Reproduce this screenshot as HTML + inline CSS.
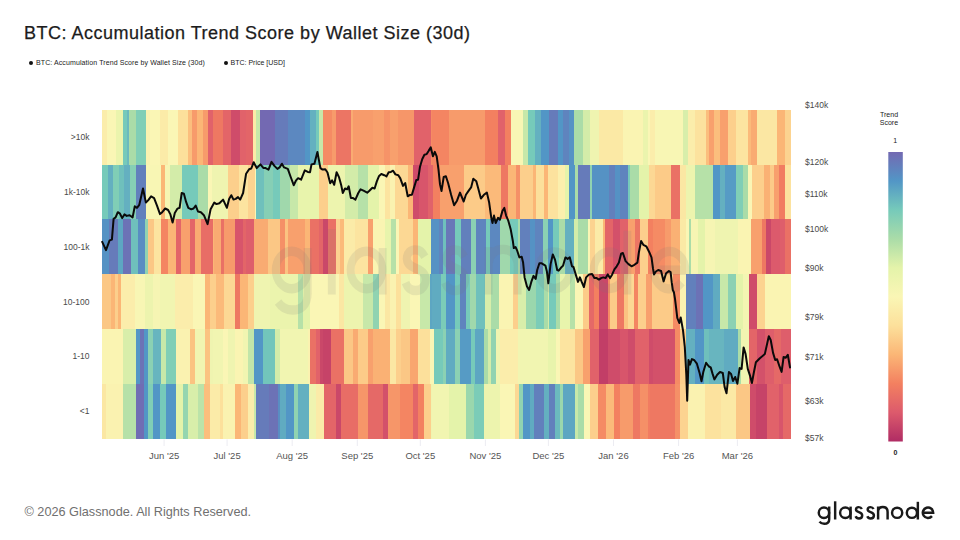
<!DOCTYPE html>
<html><head><meta charset="utf-8"><title>BTC: Accumulation Trend Score by Wallet Size (30d)</title>
<style>
html,body{margin:0;padding:0;background:#fff;}
body{width:960px;height:540px;position:relative;overflow:hidden;font-family:"Liberation Sans",sans-serif;}
.t{position:absolute;white-space:nowrap;}
#title{left:24px;top:22.6px;font-size:18px;color:#1c1c1c;letter-spacing:0.5px;-webkit-text-stroke:0.25px #1c1c1c;}
.lg{top:59.2px;font-size:7px;color:#222;}
.dot{position:absolute;width:4px;height:4px;border-radius:50%;background:#111;}
#foot{left:24.5px;top:504.5px;font-size:12.7px;color:#707070;}
#logo{left:816px;top:495px;font-size:26px;color:#1a1a1a;letter-spacing:0px;}
svg{position:absolute;left:0;top:0;}
svg text{font-family:"Liberation Sans",sans-serif;}
.ax{font-size:8.5px;fill:#4a4a4a;}
.mx{font-size:9.5px;fill:#555;}
.cb{font-size:7px;fill:#222;}
</style></head><body>
<div id="title" class="t">BTC: Accumulation Trend Score by Wallet Size (30d)</div>
<div class="dot" style="left:29px;top:61.2px"></div>
<div class="t lg" style="left:36px;letter-spacing:0.1px">BTC: Accumulation Trend Score by Wallet Size (30d)</div>
<div class="dot" style="left:223.5px;top:61.2px"></div>
<div class="t lg" style="left:230.5px">BTC: Price [USD]</div>
<svg width="960" height="540" viewBox="0 0 960 540">
<g shape-rendering="crispEdges"><rect x="102.00" y="109.70" width="5.35" height="55.20" fill="#fbedab"/>
<rect x="107.00" y="109.70" width="8.95" height="55.20" fill="#faf6b5"/>
<rect x="115.60" y="109.70" width="7.75" height="55.20" fill="#ebf4ad"/>
<rect x="123.00" y="109.70" width="4.35" height="55.20" fill="#76caba"/>
<rect x="127.00" y="109.70" width="2.75" height="55.20" fill="#6bbabe"/>
<rect x="129.40" y="109.70" width="6.95" height="55.20" fill="#aadca8"/>
<rect x="136.00" y="109.70" width="9.95" height="55.20" fill="#80ceb6"/>
<rect x="145.60" y="109.70" width="4.75" height="55.20" fill="#faf2b0"/>
<rect x="150.00" y="109.70" width="10.35" height="55.20" fill="#faf6b5"/>
<rect x="160.00" y="109.70" width="7.85" height="55.20" fill="#fbeba8"/>
<rect x="167.50" y="109.70" width="10.35" height="55.20" fill="#faf6b5"/>
<rect x="177.50" y="109.70" width="10.35" height="55.20" fill="#fce09b"/>
<rect x="187.50" y="109.70" width="4.85" height="55.20" fill="#fbbe7d"/>
<rect x="192.00" y="109.70" width="5.35" height="55.20" fill="#f79b6b"/>
<rect x="197.00" y="109.70" width="5.85" height="55.20" fill="#fbb676"/>
<rect x="202.50" y="109.70" width="5.35" height="55.20" fill="#f79b6b"/>
<rect x="207.50" y="109.70" width="5.85" height="55.20" fill="#e1626a"/>
<rect x="213.00" y="109.70" width="10.35" height="55.20" fill="#ee7862"/>
<rect x="223.00" y="109.70" width="7.95" height="55.20" fill="#e36568"/>
<rect x="230.60" y="109.70" width="9.75" height="55.20" fill="#cf4c6a"/>
<rect x="240.00" y="109.70" width="6.35" height="55.20" fill="#e1626a"/>
<rect x="246.00" y="109.70" width="7.35" height="55.20" fill="#e36568"/>
<rect x="253.00" y="109.70" width="2.95" height="55.20" fill="#fbeba8"/>
<rect x="255.60" y="109.70" width="4.75" height="55.20" fill="#c7e8a9"/>
<rect x="260.00" y="109.70" width="15.35" height="55.20" fill="#7369b2"/>
<rect x="275.00" y="109.70" width="12.85" height="55.20" fill="#667bba"/>
<rect x="287.50" y="109.70" width="17.85" height="55.20" fill="#5c88c0"/>
<rect x="305.00" y="109.70" width="5.35" height="55.20" fill="#5296c6"/>
<rect x="310.00" y="109.70" width="6.35" height="55.20" fill="#64b0c0"/>
<rect x="316.00" y="109.70" width="3.75" height="55.20" fill="#76caba"/>
<rect x="319.40" y="109.70" width="3.95" height="55.20" fill="#c7e8a9"/>
<rect x="323.00" y="109.70" width="9.35" height="55.20" fill="#f58b64"/>
<rect x="332.00" y="109.70" width="3.95" height="55.20" fill="#f79b6b"/>
<rect x="335.60" y="109.70" width="15.35" height="55.20" fill="#ec7564"/>
<rect x="350.60" y="109.70" width="2.75" height="55.20" fill="#f9ab72"/>
<rect x="353.00" y="109.70" width="14.85" height="55.20" fill="#f79b6b"/>
<rect x="367.50" y="109.70" width="5.35" height="55.20" fill="#f79b6b"/>
<rect x="372.50" y="109.70" width="11.85" height="55.20" fill="#f8a06d"/>
<rect x="384.00" y="109.70" width="6.35" height="55.20" fill="#f69368"/>
<rect x="390.00" y="109.70" width="7.85" height="55.20" fill="#f8a06d"/>
<rect x="397.50" y="109.70" width="16.85" height="55.20" fill="#f69669"/>
<rect x="414.00" y="109.70" width="17.35" height="55.20" fill="#e1626a"/>
<rect x="431.00" y="109.70" width="1.35" height="55.20" fill="#f58b64"/>
<rect x="432.00" y="109.70" width="17.05" height="55.20" fill="#f48562"/>
<rect x="448.70" y="109.70" width="36.65" height="55.20" fill="#f79b6b"/>
<rect x="485.00" y="109.70" width="12.85" height="55.20" fill="#f38060"/>
<rect x="497.50" y="109.70" width="7.85" height="55.20" fill="#e1626a"/>
<rect x="505.00" y="109.70" width="6.35" height="55.20" fill="#f38060"/>
<rect x="511.00" y="109.70" width="11.85" height="55.20" fill="#f8f6b4"/>
<rect x="522.50" y="109.70" width="5.35" height="55.20" fill="#c7e8a9"/>
<rect x="527.50" y="109.70" width="7.85" height="55.20" fill="#76caba"/>
<rect x="535.00" y="109.70" width="6.35" height="55.20" fill="#64b0c0"/>
<rect x="541.00" y="109.70" width="8.05" height="55.20" fill="#5296c6"/>
<rect x="548.70" y="109.70" width="9.15" height="55.20" fill="#667bba"/>
<rect x="557.50" y="109.70" width="5.35" height="55.20" fill="#5296c6"/>
<rect x="562.50" y="109.70" width="7.25" height="55.20" fill="#5f84be"/>
<rect x="569.40" y="109.70" width="5.35" height="55.20" fill="#5592c4"/>
<rect x="574.40" y="109.70" width="8.45" height="55.20" fill="#aadca8"/>
<rect x="582.50" y="109.70" width="7.85" height="55.20" fill="#d3eca9"/>
<rect x="590.00" y="109.70" width="9.05" height="55.20" fill="#eff4b0"/>
<rect x="598.70" y="109.70" width="24.15" height="55.20" fill="#fbe9a5"/>
<rect x="622.50" y="109.70" width="20.35" height="55.20" fill="#faf4b2"/>
<rect x="642.50" y="109.70" width="5.35" height="55.20" fill="#ebf4ad"/>
<rect x="647.50" y="109.70" width="2.85" height="55.20" fill="#faf6b5"/>
<rect x="650.00" y="109.70" width="5.35" height="55.20" fill="#fbedab"/>
<rect x="655.00" y="109.70" width="27.85" height="55.20" fill="#f8f6b4"/>
<rect x="682.50" y="109.70" width="5.35" height="55.20" fill="#d8eeaa"/>
<rect x="687.50" y="109.70" width="7.85" height="55.20" fill="#fbedab"/>
<rect x="695.00" y="109.70" width="10.95" height="55.20" fill="#fce29e"/>
<rect x="705.60" y="109.70" width="3.45" height="55.20" fill="#fbbe7d"/>
<rect x="708.70" y="109.70" width="5.35" height="55.20" fill="#f8a06d"/>
<rect x="713.70" y="109.70" width="6.65" height="55.20" fill="#fbbe7d"/>
<rect x="720.00" y="109.70" width="7.85" height="55.20" fill="#f8a06d"/>
<rect x="727.50" y="109.70" width="8.65" height="55.20" fill="#fccf8c"/>
<rect x="735.80" y="109.70" width="12.05" height="55.20" fill="#fce4a0"/>
<rect x="747.50" y="109.70" width="3.85" height="55.20" fill="#fbba7a"/>
<rect x="751.00" y="109.70" width="6.15" height="55.20" fill="#f9ab72"/>
<rect x="756.80" y="109.70" width="20.25" height="55.20" fill="#fbe7a3"/>
<rect x="776.70" y="109.70" width="8.45" height="55.20" fill="#fbb676"/>
<rect x="784.80" y="109.70" width="6.35" height="55.20" fill="#fcd390"/>
<rect x="102.00" y="164.55" width="5.85" height="55.20" fill="#76caba"/>
<rect x="107.50" y="164.55" width="5.35" height="55.20" fill="#64b0c0"/>
<rect x="112.50" y="164.55" width="6.55" height="55.20" fill="#80ceb6"/>
<rect x="118.70" y="164.55" width="5.35" height="55.20" fill="#6fc0bc"/>
<rect x="123.70" y="164.55" width="6.65" height="55.20" fill="#64b0c0"/>
<rect x="130.00" y="164.55" width="6.55" height="55.20" fill="#86cfb5"/>
<rect x="136.20" y="164.55" width="9.75" height="55.20" fill="#6280bc"/>
<rect x="145.60" y="164.55" width="15.95" height="55.20" fill="#f8f6b4"/>
<rect x="161.20" y="164.55" width="4.15" height="55.20" fill="#fbb676"/>
<rect x="165.00" y="164.55" width="5.35" height="55.20" fill="#f6f5b3"/>
<rect x="170.00" y="164.55" width="12.35" height="55.20" fill="#d3eca9"/>
<rect x="182.00" y="164.55" width="15.85" height="55.20" fill="#76caba"/>
<rect x="197.50" y="164.55" width="10.35" height="55.20" fill="#aadca8"/>
<rect x="207.50" y="164.55" width="4.85" height="55.20" fill="#faf6b5"/>
<rect x="212.00" y="164.55" width="15.85" height="55.20" fill="#eff4b0"/>
<rect x="227.50" y="164.55" width="11.55" height="55.20" fill="#fccf8c"/>
<rect x="238.70" y="164.55" width="9.15" height="55.20" fill="#fce4a0"/>
<rect x="247.50" y="164.55" width="7.85" height="55.20" fill="#fcd390"/>
<rect x="255.00" y="164.55" width="1.35" height="55.20" fill="#faf6b5"/>
<rect x="256.00" y="164.55" width="8.05" height="55.20" fill="#6fc0bc"/>
<rect x="263.70" y="164.55" width="9.15" height="55.20" fill="#86cfb5"/>
<rect x="272.50" y="164.55" width="7.85" height="55.20" fill="#76caba"/>
<rect x="280.00" y="164.55" width="10.35" height="55.20" fill="#a0d8ac"/>
<rect x="290.00" y="164.55" width="7.85" height="55.20" fill="#c7e8a9"/>
<rect x="297.50" y="164.55" width="21.55" height="55.20" fill="#e8f4ac"/>
<rect x="318.70" y="164.55" width="9.15" height="55.20" fill="#fccf8c"/>
<rect x="327.50" y="164.55" width="17.85" height="55.20" fill="#edf4ae"/>
<rect x="345.00" y="164.55" width="12.85" height="55.20" fill="#d3eca9"/>
<rect x="357.50" y="164.55" width="10.35" height="55.20" fill="#b6e1a8"/>
<rect x="367.50" y="164.55" width="11.55" height="55.20" fill="#e4f3aa"/>
<rect x="378.70" y="164.55" width="6.65" height="55.20" fill="#faf6b5"/>
<rect x="385.00" y="164.55" width="5.35" height="55.20" fill="#fce4a0"/>
<rect x="390.00" y="164.55" width="5.35" height="55.20" fill="#faf2b0"/>
<rect x="395.00" y="164.55" width="12.85" height="55.20" fill="#fcd894"/>
<rect x="407.50" y="164.55" width="5.85" height="55.20" fill="#fbb676"/>
<rect x="413.00" y="164.55" width="6.05" height="55.20" fill="#cf4c6a"/>
<rect x="418.70" y="164.55" width="9.65" height="55.20" fill="#d8556b"/>
<rect x="428.00" y="164.55" width="4.85" height="55.20" fill="#e1626a"/>
<rect x="432.50" y="164.55" width="7.85" height="55.20" fill="#f38060"/>
<rect x="440.00" y="164.55" width="24.05" height="55.20" fill="#f8a06d"/>
<rect x="463.70" y="164.55" width="21.65" height="55.20" fill="#fccb88"/>
<rect x="485.00" y="164.55" width="16.35" height="55.20" fill="#fbba7a"/>
<rect x="501.00" y="164.55" width="6.85" height="55.20" fill="#ee7862"/>
<rect x="507.50" y="164.55" width="8.85" height="55.20" fill="#fbb676"/>
<rect x="516.00" y="164.55" width="4.35" height="55.20" fill="#f59067"/>
<rect x="520.00" y="164.55" width="12.85" height="55.20" fill="#fccf8c"/>
<rect x="532.50" y="164.55" width="3.85" height="55.20" fill="#fbb676"/>
<rect x="536.00" y="164.55" width="8.05" height="55.20" fill="#fce09b"/>
<rect x="543.70" y="164.55" width="4.15" height="55.20" fill="#fbb676"/>
<rect x="547.50" y="164.55" width="10.35" height="55.20" fill="#fce29e"/>
<rect x="557.50" y="164.55" width="7.85" height="55.20" fill="#fbefad"/>
<rect x="565.00" y="164.55" width="4.05" height="55.20" fill="#e4f3aa"/>
<rect x="568.70" y="164.55" width="6.65" height="55.20" fill="#5296c6"/>
<rect x="575.00" y="164.55" width="2.85" height="55.20" fill="#aadca8"/>
<rect x="577.50" y="164.55" width="12.85" height="55.20" fill="#667bba"/>
<rect x="590.00" y="164.55" width="2.35" height="55.20" fill="#90d3b1"/>
<rect x="592.00" y="164.55" width="17.05" height="55.20" fill="#5592c4"/>
<rect x="608.70" y="164.55" width="6.65" height="55.20" fill="#6280bc"/>
<rect x="615.00" y="164.55" width="5.35" height="55.20" fill="#5592c4"/>
<rect x="620.00" y="164.55" width="7.85" height="55.20" fill="#5f84be"/>
<rect x="627.50" y="164.55" width="2.85" height="55.20" fill="#76caba"/>
<rect x="630.00" y="164.55" width="9.05" height="55.20" fill="#aadca8"/>
<rect x="638.70" y="164.55" width="10.35" height="55.20" fill="#e4f3aa"/>
<rect x="648.70" y="164.55" width="6.65" height="55.20" fill="#fcd894"/>
<rect x="655.00" y="164.55" width="16.35" height="55.20" fill="#fccb88"/>
<rect x="671.00" y="164.55" width="9.35" height="55.20" fill="#ea7165"/>
<rect x="680.00" y="164.55" width="6.35" height="55.20" fill="#fbe7a3"/>
<rect x="686.00" y="164.55" width="9.35" height="55.20" fill="#edf4ae"/>
<rect x="695.00" y="164.55" width="17.85" height="55.20" fill="#b6e1a8"/>
<rect x="712.50" y="164.55" width="7.85" height="55.20" fill="#5296c6"/>
<rect x="720.00" y="164.55" width="5.35" height="55.20" fill="#64b0c0"/>
<rect x="725.00" y="164.55" width="11.35" height="55.20" fill="#569bc5"/>
<rect x="736.00" y="164.55" width="7.15" height="55.20" fill="#80ceb6"/>
<rect x="742.80" y="164.55" width="5.05" height="55.20" fill="#aadca8"/>
<rect x="747.50" y="164.55" width="4.85" height="55.20" fill="#faf6b5"/>
<rect x="752.00" y="164.55" width="12.15" height="55.20" fill="#fccf8c"/>
<rect x="763.80" y="164.55" width="6.25" height="55.20" fill="#fab174"/>
<rect x="769.70" y="164.55" width="4.95" height="55.20" fill="#fccb88"/>
<rect x="774.30" y="164.55" width="5.05" height="55.20" fill="#f8a06d"/>
<rect x="779.00" y="164.55" width="6.15" height="55.20" fill="#f17c61"/>
<rect x="784.80" y="164.55" width="6.35" height="55.20" fill="#fce29e"/>
<rect x="102.00" y="219.40" width="7.05" height="55.20" fill="#5592c4"/>
<rect x="108.70" y="219.40" width="9.15" height="55.20" fill="#667bba"/>
<rect x="117.50" y="219.40" width="5.35" height="55.20" fill="#5da6c2"/>
<rect x="122.50" y="219.40" width="9.05" height="55.20" fill="#6c72b6"/>
<rect x="131.20" y="219.40" width="6.65" height="55.20" fill="#6fc0bc"/>
<rect x="137.50" y="219.40" width="7.85" height="55.20" fill="#598dc2"/>
<rect x="145.00" y="219.40" width="3.35" height="55.20" fill="#90d3b1"/>
<rect x="148.00" y="219.40" width="6.05" height="55.20" fill="#fbc785"/>
<rect x="153.70" y="219.40" width="7.85" height="55.20" fill="#fce4a0"/>
<rect x="161.20" y="219.40" width="7.15" height="55.20" fill="#f48562"/>
<rect x="168.00" y="219.40" width="8.55" height="55.20" fill="#fbb676"/>
<rect x="176.20" y="219.40" width="5.35" height="55.20" fill="#e36568"/>
<rect x="181.20" y="219.40" width="9.15" height="55.20" fill="#f8a06d"/>
<rect x="190.00" y="219.40" width="5.35" height="55.20" fill="#e36568"/>
<rect x="195.00" y="219.40" width="6.55" height="55.20" fill="#f9ab72"/>
<rect x="201.20" y="219.40" width="11.65" height="55.20" fill="#e86d66"/>
<rect x="212.50" y="219.40" width="1.55" height="55.20" fill="#fbb676"/>
<rect x="213.70" y="219.40" width="7.65" height="55.20" fill="#f9ab72"/>
<rect x="221.00" y="219.40" width="3.05" height="55.20" fill="#ea7165"/>
<rect x="223.70" y="219.40" width="11.65" height="55.20" fill="#f79b6b"/>
<rect x="235.00" y="219.40" width="7.85" height="55.20" fill="#d8556b"/>
<rect x="242.50" y="219.40" width="3.85" height="55.20" fill="#e36568"/>
<rect x="246.00" y="219.40" width="8.05" height="55.20" fill="#de5e6b"/>
<rect x="253.70" y="219.40" width="14.15" height="55.20" fill="#f9ab72"/>
<rect x="267.50" y="219.40" width="12.85" height="55.20" fill="#fbc785"/>
<rect x="280.00" y="219.40" width="5.35" height="55.20" fill="#f59067"/>
<rect x="285.00" y="219.40" width="2.85" height="55.20" fill="#fbc381"/>
<rect x="287.50" y="219.40" width="17.85" height="55.20" fill="#f8a06d"/>
<rect x="305.00" y="219.40" width="5.35" height="55.20" fill="#fbb676"/>
<rect x="310.00" y="219.40" width="9.05" height="55.20" fill="#ea7165"/>
<rect x="318.70" y="219.40" width="4.15" height="55.20" fill="#e36568"/>
<rect x="322.50" y="219.40" width="5.35" height="55.20" fill="#ca4869"/>
<rect x="327.50" y="219.40" width="8.45" height="55.20" fill="#ea7165"/>
<rect x="335.60" y="219.40" width="4.75" height="55.20" fill="#fcd390"/>
<rect x="340.00" y="219.40" width="4.05" height="55.20" fill="#fbba7a"/>
<rect x="343.70" y="219.40" width="11.65" height="55.20" fill="#fbeba8"/>
<rect x="355.00" y="219.40" width="12.85" height="55.20" fill="#fce4a0"/>
<rect x="367.50" y="219.40" width="5.35" height="55.20" fill="#f8a06d"/>
<rect x="372.50" y="219.40" width="12.85" height="55.20" fill="#faf4b2"/>
<rect x="385.00" y="219.40" width="6.35" height="55.20" fill="#e8f4ac"/>
<rect x="391.00" y="219.40" width="5.35" height="55.20" fill="#b6e1a8"/>
<rect x="396.00" y="219.40" width="3.05" height="55.20" fill="#faf6b5"/>
<rect x="398.70" y="219.40" width="14.15" height="55.20" fill="#fcd894"/>
<rect x="412.50" y="219.40" width="5.35" height="55.20" fill="#fbb676"/>
<rect x="417.50" y="219.40" width="13.85" height="55.20" fill="#e4f3aa"/>
<rect x="431.00" y="219.40" width="8.05" height="55.20" fill="#5592c4"/>
<rect x="438.70" y="219.40" width="4.15" height="55.20" fill="#5f84be"/>
<rect x="442.50" y="219.40" width="3.85" height="55.20" fill="#6fc0bc"/>
<rect x="446.00" y="219.40" width="9.35" height="55.20" fill="#6977b8"/>
<rect x="455.00" y="219.40" width="6.35" height="55.20" fill="#76caba"/>
<rect x="461.00" y="219.40" width="10.35" height="55.20" fill="#6280bc"/>
<rect x="471.00" y="219.40" width="5.35" height="55.20" fill="#8bd1b3"/>
<rect x="476.00" y="219.40" width="10.35" height="55.20" fill="#5f84be"/>
<rect x="486.00" y="219.40" width="4.35" height="55.20" fill="#76caba"/>
<rect x="490.00" y="219.40" width="10.35" height="55.20" fill="#5c88c0"/>
<rect x="500.00" y="219.40" width="10.35" height="55.20" fill="#a0d8ac"/>
<rect x="510.00" y="219.40" width="7.85" height="55.20" fill="#76caba"/>
<rect x="517.50" y="219.40" width="2.85" height="55.20" fill="#aadca8"/>
<rect x="520.00" y="219.40" width="10.35" height="55.20" fill="#6280bc"/>
<rect x="530.00" y="219.40" width="5.35" height="55.20" fill="#5592c4"/>
<rect x="535.00" y="219.40" width="7.85" height="55.20" fill="#5f84be"/>
<rect x="542.50" y="219.40" width="5.35" height="55.20" fill="#8bd1b3"/>
<rect x="547.50" y="219.40" width="5.35" height="55.20" fill="#5296c6"/>
<rect x="552.50" y="219.40" width="6.55" height="55.20" fill="#76caba"/>
<rect x="558.70" y="219.40" width="6.65" height="55.20" fill="#aadca8"/>
<rect x="565.00" y="219.40" width="9.05" height="55.20" fill="#64b0c0"/>
<rect x="573.70" y="219.40" width="4.15" height="55.20" fill="#d3eca9"/>
<rect x="577.50" y="219.40" width="10.35" height="55.20" fill="#aadca8"/>
<rect x="587.50" y="219.40" width="2.85" height="55.20" fill="#faf6b5"/>
<rect x="590.00" y="219.40" width="5.35" height="55.20" fill="#fcd390"/>
<rect x="595.00" y="219.40" width="7.85" height="55.20" fill="#fbeba8"/>
<rect x="602.50" y="219.40" width="2.85" height="55.20" fill="#fbb676"/>
<rect x="605.00" y="219.40" width="7.85" height="55.20" fill="#e36568"/>
<rect x="612.50" y="219.40" width="7.85" height="55.20" fill="#d3516a"/>
<rect x="620.00" y="219.40" width="7.85" height="55.20" fill="#e1626a"/>
<rect x="627.50" y="219.40" width="7.85" height="55.20" fill="#f8a06d"/>
<rect x="635.00" y="219.40" width="5.35" height="55.20" fill="#ec7564"/>
<rect x="640.00" y="219.40" width="7.85" height="55.20" fill="#fccf8c"/>
<rect x="647.50" y="219.40" width="5.35" height="55.20" fill="#f38060"/>
<rect x="652.50" y="219.40" width="12.85" height="55.20" fill="#f58b64"/>
<rect x="665.00" y="219.40" width="6.35" height="55.20" fill="#f79b6b"/>
<rect x="671.00" y="219.40" width="9.35" height="55.20" fill="#fab174"/>
<rect x="680.00" y="219.40" width="6.35" height="55.20" fill="#fbe9a5"/>
<rect x="686.00" y="219.40" width="3.05" height="55.20" fill="#faf6b5"/>
<rect x="688.70" y="219.40" width="2.65" height="55.20" fill="#aadca8"/>
<rect x="691.00" y="219.40" width="6.85" height="55.20" fill="#f6f5b3"/>
<rect x="697.50" y="219.40" width="7.85" height="55.20" fill="#e4f3aa"/>
<rect x="705.00" y="219.40" width="10.35" height="55.20" fill="#f6f5b3"/>
<rect x="715.00" y="219.40" width="22.85" height="55.20" fill="#eff4b0"/>
<rect x="737.50" y="219.40" width="13.85" height="55.20" fill="#faf4b2"/>
<rect x="751.00" y="219.40" width="10.85" height="55.20" fill="#f8a06d"/>
<rect x="761.50" y="219.40" width="5.05" height="55.20" fill="#ee7862"/>
<rect x="766.20" y="219.40" width="4.95" height="55.20" fill="#ca4869"/>
<rect x="770.80" y="219.40" width="9.75" height="55.20" fill="#dc5a6c"/>
<rect x="780.20" y="219.40" width="4.95" height="55.20" fill="#de5e6b"/>
<rect x="784.80" y="219.40" width="6.35" height="55.20" fill="#ea7165"/>
<rect x="102.00" y="274.25" width="9.35" height="55.20" fill="#fbc785"/>
<rect x="111.00" y="274.25" width="4.35" height="55.20" fill="#fbb676"/>
<rect x="115.00" y="274.25" width="2.85" height="55.20" fill="#fccf8c"/>
<rect x="117.50" y="274.25" width="3.85" height="55.20" fill="#fbb676"/>
<rect x="121.00" y="274.25" width="14.35" height="55.20" fill="#fbedab"/>
<rect x="135.00" y="274.25" width="10.35" height="55.20" fill="#f8f6b4"/>
<rect x="145.00" y="274.25" width="7.85" height="55.20" fill="#edf4ae"/>
<rect x="152.50" y="274.25" width="7.85" height="55.20" fill="#f6f5b3"/>
<rect x="160.00" y="274.25" width="15.35" height="55.20" fill="#f1f5b1"/>
<rect x="175.00" y="274.25" width="17.85" height="55.20" fill="#fbedab"/>
<rect x="192.50" y="274.25" width="12.85" height="55.20" fill="#faf6b5"/>
<rect x="205.00" y="274.25" width="5.35" height="55.20" fill="#fbb676"/>
<rect x="210.00" y="274.25" width="6.35" height="55.20" fill="#fccf8c"/>
<rect x="216.00" y="274.25" width="8.05" height="55.20" fill="#fbba7a"/>
<rect x="223.70" y="274.25" width="11.65" height="55.20" fill="#fcd894"/>
<rect x="235.00" y="274.25" width="5.35" height="55.20" fill="#ee7862"/>
<rect x="240.00" y="274.25" width="7.85" height="55.20" fill="#fbb676"/>
<rect x="247.50" y="274.25" width="6.55" height="55.20" fill="#fccf8c"/>
<rect x="253.70" y="274.25" width="16.65" height="55.20" fill="#eff4b0"/>
<rect x="270.00" y="274.25" width="27.85" height="55.20" fill="#ebf4ad"/>
<rect x="297.50" y="274.25" width="5.35" height="55.20" fill="#b6e1a8"/>
<rect x="302.50" y="274.25" width="7.85" height="55.20" fill="#e4f3aa"/>
<rect x="310.00" y="274.25" width="29.05" height="55.20" fill="#faf6b5"/>
<rect x="338.70" y="274.25" width="5.35" height="55.20" fill="#fbe7a3"/>
<rect x="343.70" y="274.25" width="19.15" height="55.20" fill="#edf4ae"/>
<rect x="362.50" y="274.25" width="10.35" height="55.20" fill="#c7e8a9"/>
<rect x="372.50" y="274.25" width="6.55" height="55.20" fill="#90d3b1"/>
<rect x="378.70" y="274.25" width="6.65" height="55.20" fill="#faf6b5"/>
<rect x="385.00" y="274.25" width="5.35" height="55.20" fill="#fbe7a3"/>
<rect x="390.00" y="274.25" width="6.35" height="55.20" fill="#faf2b0"/>
<rect x="396.00" y="274.25" width="5.35" height="55.20" fill="#fce09b"/>
<rect x="401.00" y="274.25" width="9.35" height="55.20" fill="#eff4b0"/>
<rect x="410.00" y="274.25" width="10.35" height="55.20" fill="#faf6b5"/>
<rect x="420.00" y="274.25" width="10.35" height="55.20" fill="#c7e8a9"/>
<rect x="430.00" y="274.25" width="2.35" height="55.20" fill="#5da6c2"/>
<rect x="432.00" y="274.25" width="9.35" height="55.20" fill="#60abc1"/>
<rect x="441.00" y="274.25" width="5.35" height="55.20" fill="#7bccb8"/>
<rect x="446.00" y="274.25" width="9.35" height="55.20" fill="#5296c6"/>
<rect x="455.00" y="274.25" width="5.35" height="55.20" fill="#76caba"/>
<rect x="460.00" y="274.25" width="6.35" height="55.20" fill="#5f84be"/>
<rect x="466.00" y="274.25" width="4.35" height="55.20" fill="#76caba"/>
<rect x="470.00" y="274.25" width="6.35" height="55.20" fill="#a0d8ac"/>
<rect x="476.00" y="274.25" width="9.35" height="55.20" fill="#6fc0bc"/>
<rect x="485.00" y="274.25" width="6.35" height="55.20" fill="#d8eeaa"/>
<rect x="491.00" y="274.25" width="8.35" height="55.20" fill="#aadca8"/>
<rect x="499.00" y="274.25" width="13.85" height="55.20" fill="#faf4b2"/>
<rect x="512.50" y="274.25" width="5.35" height="55.20" fill="#fccf8c"/>
<rect x="517.50" y="274.25" width="8.85" height="55.20" fill="#d8eeaa"/>
<rect x="526.00" y="274.25" width="10.35" height="55.20" fill="#9ad7ad"/>
<rect x="536.00" y="274.25" width="8.35" height="55.20" fill="#7bccb8"/>
<rect x="544.00" y="274.25" width="3.85" height="55.20" fill="#aadca8"/>
<rect x="547.50" y="274.25" width="1.55" height="55.20" fill="#d3eca9"/>
<rect x="548.70" y="274.25" width="7.65" height="55.20" fill="#76caba"/>
<rect x="556.00" y="274.25" width="4.35" height="55.20" fill="#aadca8"/>
<rect x="560.00" y="274.25" width="10.35" height="55.20" fill="#e8f4ac"/>
<rect x="570.00" y="274.25" width="5.35" height="55.20" fill="#b6e1a8"/>
<rect x="575.00" y="274.25" width="7.85" height="55.20" fill="#faf6b5"/>
<rect x="582.50" y="274.25" width="6.55" height="55.20" fill="#fccb88"/>
<rect x="588.70" y="274.25" width="5.35" height="55.20" fill="#e56967"/>
<rect x="593.70" y="274.25" width="5.35" height="55.20" fill="#f38060"/>
<rect x="598.70" y="274.25" width="9.15" height="55.20" fill="#ca4869"/>
<rect x="607.50" y="274.25" width="2.85" height="55.20" fill="#f58b64"/>
<rect x="610.00" y="274.25" width="7.55" height="55.20" fill="#fccb88"/>
<rect x="617.20" y="274.25" width="7.15" height="55.20" fill="#ee7862"/>
<rect x="624.00" y="274.25" width="4.65" height="55.20" fill="#fbc381"/>
<rect x="628.30" y="274.25" width="6.05" height="55.20" fill="#fcd894"/>
<rect x="634.00" y="274.25" width="4.65" height="55.20" fill="#f48562"/>
<rect x="638.30" y="274.25" width="8.05" height="55.20" fill="#fccf8c"/>
<rect x="646.00" y="274.25" width="6.05" height="55.20" fill="#f8a06d"/>
<rect x="651.70" y="274.25" width="21.15" height="55.20" fill="#fccb88"/>
<rect x="672.50" y="274.25" width="7.85" height="55.20" fill="#f58b64"/>
<rect x="680.00" y="274.25" width="6.35" height="55.20" fill="#faf2b0"/>
<rect x="686.00" y="274.25" width="10.35" height="55.20" fill="#6280bc"/>
<rect x="696.00" y="274.25" width="6.85" height="55.20" fill="#6c72b6"/>
<rect x="702.50" y="274.25" width="10.35" height="55.20" fill="#5296c6"/>
<rect x="712.50" y="274.25" width="7.85" height="55.20" fill="#60abc1"/>
<rect x="720.00" y="274.25" width="7.85" height="55.20" fill="#c7e8a9"/>
<rect x="727.50" y="274.25" width="8.85" height="55.20" fill="#8bd1b3"/>
<rect x="736.00" y="274.25" width="7.15" height="55.20" fill="#e4f3aa"/>
<rect x="742.80" y="274.25" width="6.25" height="55.20" fill="#f3f5b2"/>
<rect x="748.70" y="274.25" width="8.45" height="55.20" fill="#cf4c6a"/>
<rect x="756.80" y="274.25" width="8.55" height="55.20" fill="#fcd390"/>
<rect x="765.00" y="274.25" width="26.15" height="55.20" fill="#faf4b2"/>
<rect x="102.00" y="329.10" width="20.85" height="55.20" fill="#faf4b2"/>
<rect x="122.50" y="329.10" width="13.85" height="55.20" fill="#d8eeaa"/>
<rect x="136.00" y="329.10" width="4.35" height="55.20" fill="#5296c6"/>
<rect x="140.00" y="329.10" width="4.75" height="55.20" fill="#6c72b6"/>
<rect x="144.40" y="329.10" width="3.95" height="55.20" fill="#5296c6"/>
<rect x="148.00" y="329.10" width="4.85" height="55.20" fill="#8bd1b3"/>
<rect x="152.50" y="329.10" width="8.85" height="55.20" fill="#68b5bf"/>
<rect x="161.00" y="329.10" width="5.35" height="55.20" fill="#c7e8a9"/>
<rect x="166.00" y="329.10" width="10.35" height="55.20" fill="#80ceb6"/>
<rect x="176.00" y="329.10" width="14.35" height="55.20" fill="#faf2b0"/>
<rect x="190.00" y="329.10" width="5.35" height="55.20" fill="#fbc381"/>
<rect x="195.00" y="329.10" width="10.35" height="55.20" fill="#f1f5b1"/>
<rect x="205.00" y="329.10" width="5.35" height="55.20" fill="#fbc381"/>
<rect x="210.00" y="329.10" width="2.85" height="55.20" fill="#eff4b0"/>
<rect x="212.50" y="329.10" width="10.35" height="55.20" fill="#f1f5b1"/>
<rect x="222.50" y="329.10" width="5.35" height="55.20" fill="#faf6b5"/>
<rect x="227.50" y="329.10" width="7.85" height="55.20" fill="#eff4b0"/>
<rect x="235.00" y="329.10" width="7.85" height="55.20" fill="#faf4b2"/>
<rect x="242.50" y="329.10" width="5.35" height="55.20" fill="#f1f5b1"/>
<rect x="247.50" y="329.10" width="6.55" height="55.20" fill="#c1e5a9"/>
<rect x="253.70" y="329.10" width="9.15" height="55.20" fill="#5296c6"/>
<rect x="262.50" y="329.10" width="12.85" height="55.20" fill="#72c5bb"/>
<rect x="275.00" y="329.10" width="5.35" height="55.20" fill="#d3eca9"/>
<rect x="280.00" y="329.10" width="27.85" height="55.20" fill="#f1f5b1"/>
<rect x="307.50" y="329.10" width="2.85" height="55.20" fill="#faf2b0"/>
<rect x="310.00" y="329.10" width="6.35" height="55.20" fill="#ea7165"/>
<rect x="316.00" y="329.10" width="4.35" height="55.20" fill="#e1626a"/>
<rect x="320.00" y="329.10" width="3.35" height="55.20" fill="#ca4869"/>
<rect x="323.00" y="329.10" width="8.35" height="55.20" fill="#c64368"/>
<rect x="331.00" y="329.10" width="13.05" height="55.20" fill="#ea7165"/>
<rect x="343.70" y="329.10" width="9.15" height="55.20" fill="#fbc785"/>
<rect x="352.50" y="329.10" width="5.35" height="55.20" fill="#f9ab72"/>
<rect x="357.50" y="329.10" width="10.35" height="55.20" fill="#fccb88"/>
<rect x="367.50" y="329.10" width="5.35" height="55.20" fill="#f8a06d"/>
<rect x="372.50" y="329.10" width="17.85" height="55.20" fill="#fab174"/>
<rect x="390.00" y="329.10" width="6.35" height="55.20" fill="#fbe7a3"/>
<rect x="396.00" y="329.10" width="5.35" height="55.20" fill="#fccf8c"/>
<rect x="401.00" y="329.10" width="9.35" height="55.20" fill="#fbc785"/>
<rect x="410.00" y="329.10" width="7.85" height="55.20" fill="#f9a66f"/>
<rect x="417.50" y="329.10" width="12.85" height="55.20" fill="#fce09b"/>
<rect x="430.00" y="329.10" width="4.75" height="55.20" fill="#faf6b5"/>
<rect x="434.40" y="329.10" width="8.45" height="55.20" fill="#76caba"/>
<rect x="442.50" y="329.10" width="3.85" height="55.20" fill="#8bd1b3"/>
<rect x="446.00" y="329.10" width="9.35" height="55.20" fill="#60abc1"/>
<rect x="455.00" y="329.10" width="5.35" height="55.20" fill="#8bd1b3"/>
<rect x="460.00" y="329.10" width="11.35" height="55.20" fill="#569bc5"/>
<rect x="471.00" y="329.10" width="4.35" height="55.20" fill="#76caba"/>
<rect x="475.00" y="329.10" width="9.35" height="55.20" fill="#5da6c2"/>
<rect x="484.00" y="329.10" width="3.85" height="55.20" fill="#aadca8"/>
<rect x="487.50" y="329.10" width="3.85" height="55.20" fill="#d3eca9"/>
<rect x="491.00" y="329.10" width="5.35" height="55.20" fill="#90d3b1"/>
<rect x="496.00" y="329.10" width="4.35" height="55.20" fill="#eff4b0"/>
<rect x="500.00" y="329.10" width="17.85" height="55.20" fill="#fbedab"/>
<rect x="517.50" y="329.10" width="30.35" height="55.20" fill="#f1f5b1"/>
<rect x="547.50" y="329.10" width="8.85" height="55.20" fill="#e8f4ac"/>
<rect x="556.00" y="329.10" width="4.35" height="55.20" fill="#faf6b5"/>
<rect x="560.00" y="329.10" width="15.35" height="55.20" fill="#fce4a0"/>
<rect x="575.00" y="329.10" width="7.85" height="55.20" fill="#fbc785"/>
<rect x="582.50" y="329.10" width="7.85" height="55.20" fill="#f8a06d"/>
<rect x="590.00" y="329.10" width="9.05" height="55.20" fill="#e1626a"/>
<rect x="598.70" y="329.10" width="9.15" height="55.20" fill="#c23e67"/>
<rect x="607.50" y="329.10" width="12.85" height="55.20" fill="#cf4c6a"/>
<rect x="620.00" y="329.10" width="7.85" height="55.20" fill="#d8556b"/>
<rect x="627.50" y="329.10" width="7.85" height="55.20" fill="#cf4c6a"/>
<rect x="635.00" y="329.10" width="14.05" height="55.20" fill="#e1626a"/>
<rect x="648.70" y="329.10" width="4.15" height="55.20" fill="#cf4c6a"/>
<rect x="652.50" y="329.10" width="22.85" height="55.20" fill="#d3516a"/>
<rect x="675.00" y="329.10" width="5.35" height="55.20" fill="#f58b64"/>
<rect x="680.00" y="329.10" width="6.35" height="55.20" fill="#fccf8c"/>
<rect x="686.00" y="329.10" width="9.35" height="55.20" fill="#64b0c0"/>
<rect x="695.00" y="329.10" width="9.35" height="55.20" fill="#5296c6"/>
<rect x="704.00" y="329.10" width="5.35" height="55.20" fill="#6fc0bc"/>
<rect x="709.00" y="329.10" width="15.35" height="55.20" fill="#68b5bf"/>
<rect x="724.00" y="329.10" width="13.85" height="55.20" fill="#60abc1"/>
<rect x="737.50" y="329.10" width="3.85" height="55.20" fill="#aadca8"/>
<rect x="741.00" y="329.10" width="8.05" height="55.20" fill="#f1f5b1"/>
<rect x="748.70" y="329.10" width="8.45" height="55.20" fill="#e36568"/>
<rect x="756.80" y="329.10" width="8.55" height="55.20" fill="#d3516a"/>
<rect x="765.00" y="329.10" width="9.65" height="55.20" fill="#de5e6b"/>
<rect x="774.30" y="329.10" width="7.35" height="55.20" fill="#e56967"/>
<rect x="781.30" y="329.10" width="9.85" height="55.20" fill="#de5e6b"/>
<rect x="102.00" y="383.95" width="4.35" height="55.20" fill="#fbe7a3"/>
<rect x="106.00" y="383.95" width="16.85" height="55.20" fill="#faf2b0"/>
<rect x="122.50" y="383.95" width="13.85" height="55.20" fill="#b6e1a8"/>
<rect x="136.00" y="383.95" width="8.35" height="55.20" fill="#706db4"/>
<rect x="144.00" y="383.95" width="3.85" height="55.20" fill="#5296c6"/>
<rect x="147.50" y="383.95" width="5.35" height="55.20" fill="#80ceb6"/>
<rect x="152.50" y="383.95" width="7.85" height="55.20" fill="#5296c6"/>
<rect x="160.00" y="383.95" width="6.35" height="55.20" fill="#76caba"/>
<rect x="166.00" y="383.95" width="10.35" height="55.20" fill="#5296c6"/>
<rect x="176.00" y="383.95" width="6.85" height="55.20" fill="#e4f3aa"/>
<rect x="182.50" y="383.95" width="5.35" height="55.20" fill="#95d5af"/>
<rect x="187.50" y="383.95" width="10.35" height="55.20" fill="#d8eeaa"/>
<rect x="197.50" y="383.95" width="6.85" height="55.20" fill="#bbe3a9"/>
<rect x="204.00" y="383.95" width="6.35" height="55.20" fill="#fbbe7d"/>
<rect x="210.00" y="383.95" width="10.35" height="55.20" fill="#fbeba8"/>
<rect x="220.00" y="383.95" width="2.85" height="55.20" fill="#fce09b"/>
<rect x="222.50" y="383.95" width="12.85" height="55.20" fill="#faf2b0"/>
<rect x="235.00" y="383.95" width="6.35" height="55.20" fill="#fbb676"/>
<rect x="241.00" y="383.95" width="6.85" height="55.20" fill="#fccf8c"/>
<rect x="247.50" y="383.95" width="6.55" height="55.20" fill="#fbedab"/>
<rect x="253.70" y="383.95" width="2.65" height="55.20" fill="#c7e8a9"/>
<rect x="256.00" y="383.95" width="13.05" height="55.20" fill="#667bba"/>
<rect x="268.70" y="383.95" width="9.15" height="55.20" fill="#6c72b6"/>
<rect x="277.50" y="383.95" width="2.85" height="55.20" fill="#598dc2"/>
<rect x="280.00" y="383.95" width="6.35" height="55.20" fill="#60abc1"/>
<rect x="286.00" y="383.95" width="8.05" height="55.20" fill="#5296c6"/>
<rect x="293.70" y="383.95" width="4.15" height="55.20" fill="#90d3b1"/>
<rect x="297.50" y="383.95" width="11.55" height="55.20" fill="#64b0c0"/>
<rect x="308.70" y="383.95" width="7.65" height="55.20" fill="#eff4b0"/>
<rect x="316.00" y="383.95" width="8.05" height="55.20" fill="#fbeba8"/>
<rect x="323.70" y="383.95" width="12.65" height="55.20" fill="#e36568"/>
<rect x="336.00" y="383.95" width="5.35" height="55.20" fill="#ca4869"/>
<rect x="341.00" y="383.95" width="16.85" height="55.20" fill="#e86d66"/>
<rect x="357.50" y="383.95" width="10.35" height="55.20" fill="#f69669"/>
<rect x="367.50" y="383.95" width="15.35" height="55.20" fill="#e56967"/>
<rect x="382.50" y="383.95" width="5.35" height="55.20" fill="#d3516a"/>
<rect x="387.50" y="383.95" width="12.85" height="55.20" fill="#f69669"/>
<rect x="400.00" y="383.95" width="12.85" height="55.20" fill="#f48562"/>
<rect x="412.50" y="383.95" width="5.35" height="55.20" fill="#e36568"/>
<rect x="417.50" y="383.95" width="6.85" height="55.20" fill="#f38060"/>
<rect x="424.00" y="383.95" width="7.35" height="55.20" fill="#fccf8c"/>
<rect x="431.00" y="383.95" width="1.35" height="55.20" fill="#eff4b0"/>
<rect x="432.00" y="383.95" width="17.05" height="55.20" fill="#f1f5b1"/>
<rect x="448.70" y="383.95" width="17.65" height="55.20" fill="#e4f3aa"/>
<rect x="466.00" y="383.95" width="8.35" height="55.20" fill="#9ad7ad"/>
<rect x="474.00" y="383.95" width="10.35" height="55.20" fill="#7bccb8"/>
<rect x="484.00" y="383.95" width="16.35" height="55.20" fill="#edf4ae"/>
<rect x="500.00" y="383.95" width="15.35" height="55.20" fill="#faf6b5"/>
<rect x="515.00" y="383.95" width="4.05" height="55.20" fill="#fcd894"/>
<rect x="518.70" y="383.95" width="4.15" height="55.20" fill="#90d3b1"/>
<rect x="522.50" y="383.95" width="7.85" height="55.20" fill="#5296c6"/>
<rect x="530.00" y="383.95" width="4.35" height="55.20" fill="#60abc1"/>
<rect x="534.00" y="383.95" width="10.35" height="55.20" fill="#6280bc"/>
<rect x="544.00" y="383.95" width="5.05" height="55.20" fill="#64b0c0"/>
<rect x="548.70" y="383.95" width="6.65" height="55.20" fill="#6280bc"/>
<rect x="555.00" y="383.95" width="5.35" height="55.20" fill="#6bbabe"/>
<rect x="560.00" y="383.95" width="2.85" height="55.20" fill="#9ad7ad"/>
<rect x="562.50" y="383.95" width="12.85" height="55.20" fill="#5da6c2"/>
<rect x="575.00" y="383.95" width="2.85" height="55.20" fill="#c7e8a9"/>
<rect x="577.50" y="383.95" width="6.55" height="55.20" fill="#aadca8"/>
<rect x="583.70" y="383.95" width="6.65" height="55.20" fill="#faf6b5"/>
<rect x="590.00" y="383.95" width="7.85" height="55.20" fill="#fccf8c"/>
<rect x="597.50" y="383.95" width="8.85" height="55.20" fill="#f58b64"/>
<rect x="606.00" y="383.95" width="8.35" height="55.20" fill="#fbba7a"/>
<rect x="614.00" y="383.95" width="6.35" height="55.20" fill="#f38060"/>
<rect x="620.00" y="383.95" width="12.85" height="55.20" fill="#f79b6b"/>
<rect x="632.50" y="383.95" width="7.85" height="55.20" fill="#ee7862"/>
<rect x="640.00" y="383.95" width="7.85" height="55.20" fill="#f59067"/>
<rect x="647.50" y="383.95" width="2.85" height="55.20" fill="#f17c61"/>
<rect x="650.00" y="383.95" width="25.35" height="55.20" fill="#ee7862"/>
<rect x="675.00" y="383.95" width="5.35" height="55.20" fill="#f59067"/>
<rect x="680.00" y="383.95" width="7.85" height="55.20" fill="#fcd390"/>
<rect x="687.50" y="383.95" width="17.85" height="55.20" fill="#faf2b0"/>
<rect x="705.00" y="383.95" width="16.35" height="55.20" fill="#fce29e"/>
<rect x="721.00" y="383.95" width="15.35" height="55.20" fill="#fbe9a5"/>
<rect x="736.00" y="383.95" width="14.35" height="55.20" fill="#fbc785"/>
<rect x="750.00" y="383.95" width="6.35" height="55.20" fill="#cf4c6a"/>
<rect x="756.00" y="383.95" width="11.65" height="55.20" fill="#c64368"/>
<rect x="767.30" y="383.95" width="12.05" height="55.20" fill="#e1626a"/>
<rect x="779.00" y="383.95" width="3.85" height="55.20" fill="#d8556b"/>
<rect x="782.50" y="383.95" width="8.65" height="55.20" fill="#e56967"/></g>
<g fill="none" stroke="#7a7a7a" stroke-opacity="0.14" stroke-width="2.6"><g transform="translate(272.00 294.5) scale(3.050 3.600) translate(-817.50 -519.5)"><circle cx="823.95" cy="512.7" r="5.2"/><path d="M829.2 506.6 V519.2 C829.2 522.4 826.9 523.8 824.2 523.8 C822.2 523.8 820.6 523.1 819.5 521.6"/></g><g transform="translate(328.00 294.5) scale(3.050 3.600) translate(-833.90 -519.5)"><path d="M835.15 501.3 V519.5"/></g><g transform="translate(347.00 294.5) scale(3.050 3.600) translate(-838.90 -519.5)"><circle cx="845.3" cy="512.7" r="5.2"/><path d="M850.6 506.6 V519.5"/></g><g transform="translate(402.50 294.5) scale(3.050 3.600) translate(-854.60 -519.5)"><path d="M861.90 509.00 C861.20 507.70 860.00 507.10 858.80 507.10 C857.10 507.10 856.00 508.10 856.00 509.50 C856.00 511.00 857.20 511.60 858.90 512.20 C860.90 512.90 862.20 513.60 862.20 515.40 C862.20 517.10 860.80 518.40 858.90 518.40 C857.30 518.40 856.10 517.50 855.60 516.20"/></g><g transform="translate(442.00 294.5) scale(3.050 3.600) translate(-866.30 -519.5)"><path d="M873.60 509.00 C872.90 507.70 871.70 507.10 870.50 507.10 C868.80 507.10 867.70 508.10 867.70 509.50 C867.70 511.00 868.90 511.60 870.60 512.20 C872.60 512.90 873.90 513.60 873.90 515.40 C873.90 517.10 872.50 518.40 870.60 518.40 C869.00 518.40 867.80 517.50 867.30 516.20"/></g><g transform="translate(485.00 294.5) scale(3.050 3.600) translate(-876.90 -519.5)"><path d="M878.1 506.4 V519.5 M878.1 511.8 C878.1 508.4 880.2 506.95 882.8 506.95 C885.5 506.95 887.6 508.6 887.6 511.9 V519.5"/></g><g transform="translate(535.00 294.5) scale(3.050 3.600) translate(-890.80 -519.5)"><circle cx="897.15" cy="512.75" r="5.1"/></g><g transform="translate(590.00 294.5) scale(3.050 3.600) translate(-905.60 -519.5)"><circle cx="911.9" cy="512.75" r="5.1"/><path d="M917.85 501.8 V519.5"/></g><g transform="translate(650.00 294.5) scale(3.050 3.600) translate(-921.60 -519.5)"><path d="M922.8 512.75 H933.2 A5.2 5.2 0 1 0 931.98 516.1"/></g></g>
<path d="M102.2 241.9 L106.0 250.2 L109.6 240.4 L111.9 239.6 L113.6 218.9 L115.6 217.4 L117.8 212.2 L120.0 213.7 L122.2 218.1 L124.4 214.4 L126.7 215.9 L129.6 215.2 L132.6 217.4 L134.8 206.3 L137.0 207.8 L139.3 204.8 L143.0 188.5 L145.9 202.6 L148.1 200.4 L151.1 196.4 L154.1 198.1 L157.0 205.6 L160.0 214.1 L162.2 212.2 L165.2 208.5 L168.1 210.0 L170.4 214.4 L172.6 222.6 L174.8 213.0 L177.5 208.6 L179.6 207.8 L181.7 193.0 L183.9 193.7 L186.1 201.9 L188.3 207.8 L191.3 209.3 L193.5 208.5 L195.7 205.6 L198.0 211.5 L200.9 212.2 L203.9 215.2 L207.6 224.1 L210.6 209.3 L214.3 202.6 L216.5 204.1 L219.4 203.3 L223.1 199.6 L226.9 207.8 L229.1 198.9 L231.3 195.2 L233.5 199.6 L235.7 198.9 L238.0 197.1 L240.2 199.6 L243.1 193.0 L246.1 173.7 L249.1 169.3 L251.3 168.5 L253.7 162.2 L256.7 168.1 L260.4 164.4 L263.3 167.9 L265.6 168.1 L268.5 169.6 L271.5 161.9 L274.4 165.9 L277.4 168.9 L279.6 167.4 L281.9 163.7 L284.1 167.4 L287.8 168.9 L290.7 177.0 L293.7 185.2 L295.9 180.7 L298.1 178.2 L301.1 179.7 L304.8 170.4 L307.8 171.9 L310.0 172.3 L311.5 164.4 L314.4 163.7 L317.4 151.9 L320.4 168.1 L322.6 169.6 L325.3 169.3 L327.5 172.5 L330.2 183.3 L332.1 180.4 L334.2 184.8 L336.6 172.2 L339.1 177.4 L341.3 185.6 L342.8 193.0 L345.0 188.5 L347.2 189.3 L348.7 186.3 L350.9 198.1 L353.1 198.1 L355.4 199.6 L358.3 193.0 L360.6 189.3 L363.5 190.7 L367.2 192.7 L369.4 190.7 L372.4 187.8 L374.6 188.5 L376.9 181.1 L379.1 175.9 L381.3 174.0 L384.3 175.2 L386.5 176.4 L388.7 172.2 L390.9 171.9 L393.1 170.7 L395.4 174.4 L398.3 175.2 L400.3 178.4 L403.0 185.9 L405.2 183.0 L407.7 196.3 L409.6 195.1 L411.9 194.8 L414.1 187.4 L416.3 180.0 L418.1 179.7 L420.0 166.7 L422.2 159.3 L424.4 154.8 L426.7 154.1 L428.9 150.4 L430.8 147.4 L432.9 156.3 L434.8 151.9 L436.7 156.3 L438.5 169.6 L440.0 184.4 L441.5 191.1 L443.7 177.0 L445.9 176.3 L448.1 183.0 L451.1 194.8 L454.1 205.2 L457.0 200.7 L460.0 192.6 L463.7 201.5 L465.9 194.8 L468.9 190.4 L471.1 187.4 L473.3 178.8 L476.3 181.2 L478.2 188.2 L480.9 198.5 L483.9 194.8 L486.9 192.6 L489.1 202.2 L491.3 217.8 L492.5 223.0 L494.0 215.6 L495.7 223.0 L498.0 217.8 L499.9 219.7 L502.4 211.1 L504.3 207.9 L506.1 215.6 L508.3 220.7 L510.6 228.9 L512.8 240.7 L513.8 248.1 L515.5 247.0 L517.2 250.7 L519.4 257.4 L521.7 256.7 L523.1 262.6 L524.6 277.4 L526.9 286.3 L529.1 290.0 L531.3 281.9 L533.5 275.9 L535.7 278.9 L537.2 270.0 L539.4 263.3 L541.7 263.3 L545.4 265.6 L546.9 271.5 L548.3 283.3 L550.6 264.1 L552.8 254.4 L555.0 259.6 L557.2 270.0 L558.7 270.7 L560.9 267.8 L563.1 265.6 L565.4 257.4 L567.6 258.9 L569.8 257.4 L572.0 266.3 L573.5 267.0 L575.7 274.4 L578.0 281.9 L579.9 277.4 L581.7 281.9 L583.9 287.0 L586.1 277.4 L589.1 274.4 L592.1 274.0 L594.4 278.1 L596.7 278.1 L598.9 279.6 L601.1 278.1 L603.3 277.4 L605.6 278.1 L607.8 274.4 L610.0 278.1 L612.2 274.4 L614.4 269.3 L616.7 266.3 L618.9 262.6 L621.1 253.7 L622.9 253.0 L625.6 261.1 L628.5 264.1 L631.5 266.3 L634.4 264.8 L637.4 262.6 L638.9 252.2 L641.1 241.1 L643.3 244.8 L646.3 246.3 L649.3 252.2 L651.5 257.4 L653.0 268.5 L654.0 274.4 L655.9 271.5 L658.2 270.0 L661.1 271.0 L663.6 281.4 L666.1 273.3 L668.9 271.1 L670.6 272.2 L671.7 282.2 L672.8 290.0 L673.9 292.2 L675.0 298.9 L676.1 307.8 L677.3 318.0 L679.3 323.0 L680.7 317.4 L683.0 330.4 L684.8 347.0 L686.3 374.8 L687.2 400.7 L688.5 360.0 L690.0 364.6 L691.9 359.1 L694.1 360.0 L696.9 363.7 L699.6 373.0 L701.5 381.3 L703.3 372.0 L706.1 362.8 L708.9 366.5 L710.7 367.4 L712.6 373.9 L714.4 379.4 L717.2 374.8 L720.0 372.0 L722.8 373.0 L724.6 386.9 L726.5 393.3 L728.9 372.0 L731.1 373.9 L733.0 381.0 L735.2 377.0 L737.4 383.7 L739.6 368.1 L741.6 368.9 L743.6 347.4 L745.6 354.1 L747.8 368.9 L750.0 375.6 L751.9 383.0 L753.7 373.3 L755.9 362.2 L759.6 358.5 L764.8 354.1 L768.8 336.3 L770.7 340.0 L773.0 352.6 L775.2 360.0 L777.1 359.3 L779.6 366.7 L781.6 371.9 L783.6 357.0 L785.6 357.8 L787.8 354.8 L789.0 361.5 L790.0 367.4" fill="none" stroke="#0a0a0a" stroke-width="2" stroke-linejoin="round" stroke-linecap="round"/>
<text x="89.5" y="140.0" text-anchor="end" class="ax">&gt;10k</text>
<text x="89.5" y="194.9" text-anchor="end" class="ax">1k-10k</text>
<text x="89.5" y="249.7" text-anchor="end" class="ax">100-1k</text>
<text x="89.5" y="304.6" text-anchor="end" class="ax">10-100</text>
<text x="89.5" y="359.4" text-anchor="end" class="ax">1-10</text>
<text x="89.5" y="414.3" text-anchor="end" class="ax">&lt;1</text>
<text x="805" y="107.5" class="ax">$140k</text>
<text x="805" y="164.8" class="ax">$120k</text>
<text x="805" y="197.3" class="ax">$110k</text>
<text x="805" y="232.0" class="ax">$100k</text>
<text x="805" y="271.4" class="ax">$90k</text>
<text x="805" y="320.0" class="ax">$79k</text>
<text x="805" y="359.8" class="ax">$71k</text>
<text x="805" y="404.1" class="ax">$63k</text>
<text x="805" y="440.5" class="ax">$57k</text>
<line x1="164.1" y1="439.5" x2="164.1" y2="446" stroke="#ececf2" stroke-width="1"/>
<text x="164.1" y="458.9" text-anchor="middle" class="mx">Jun '25</text>
<line x1="227.1" y1="439.5" x2="227.1" y2="446" stroke="#ececf2" stroke-width="1"/>
<text x="227.1" y="458.9" text-anchor="middle" class="mx">Jul '25</text>
<line x1="292.2" y1="439.5" x2="292.2" y2="446" stroke="#ececf2" stroke-width="1"/>
<text x="292.2" y="458.9" text-anchor="middle" class="mx">Aug '25</text>
<line x1="357.3" y1="439.5" x2="357.3" y2="446" stroke="#ececf2" stroke-width="1"/>
<text x="357.3" y="458.9" text-anchor="middle" class="mx">Sep '25</text>
<line x1="420.3" y1="439.5" x2="420.3" y2="446" stroke="#ececf2" stroke-width="1"/>
<text x="420.3" y="458.9" text-anchor="middle" class="mx">Oct '25</text>
<line x1="485.4" y1="439.5" x2="485.4" y2="446" stroke="#ececf2" stroke-width="1"/>
<text x="485.4" y="458.9" text-anchor="middle" class="mx">Nov '25</text>
<line x1="548.4" y1="439.5" x2="548.4" y2="446" stroke="#ececf2" stroke-width="1"/>
<text x="548.4" y="458.9" text-anchor="middle" class="mx">Dec '25</text>
<line x1="613.5" y1="439.5" x2="613.5" y2="446" stroke="#ececf2" stroke-width="1"/>
<text x="613.5" y="458.9" text-anchor="middle" class="mx">Jan '26</text>
<line x1="678.6" y1="439.5" x2="678.6" y2="446" stroke="#ececf2" stroke-width="1"/>
<text x="678.6" y="458.9" text-anchor="middle" class="mx">Feb '26</text>
<line x1="737.4" y1="439.5" x2="737.4" y2="446" stroke="#ececf2" stroke-width="1"/>
<text x="737.4" y="458.9" text-anchor="middle" class="mx">Mar '26</text>
<defs><linearGradient id="cb" x1="0" y1="0" x2="0" y2="1"><stop offset="0.000" stop-color="#7369b2"/><stop offset="0.100" stop-color="#5296c6"/><stop offset="0.200" stop-color="#76caba"/><stop offset="0.300" stop-color="#aadca8"/><stop offset="0.400" stop-color="#e4f3aa"/><stop offset="0.500" stop-color="#faf6b5"/><stop offset="0.600" stop-color="#fce09b"/><stop offset="0.700" stop-color="#fbb676"/><stop offset="0.800" stop-color="#f38060"/><stop offset="0.900" stop-color="#dc5a6c"/><stop offset="1.000" stop-color="#b02c64"/></linearGradient></defs><rect x="888.3" y="152" width="14.5" height="289.5" fill="url(#cb)"/>
<text x="880" y="117" class="cb">Trend</text>
<text x="879.8" y="125.2" class="cb">Score</text>
<text x="895.3" y="142.8" text-anchor="middle" class="cb">1</text>
<text x="895.5" y="455" text-anchor="middle" class="cb" font-weight="bold">0</text>
<g fill="none" stroke="#1a1a1a" stroke-width="2.45"><circle cx="823.95" cy="512.7" r="5.2"/><path d="M829.2 506.6 V519.2 C829.2 522.4 826.9 523.8 824.2 523.8 C822.2 523.8 820.6 523.1 819.5 521.6"/><path d="M835.15 501.3 V519.5"/><circle cx="845.3" cy="512.7" r="5.2"/><path d="M850.6 506.6 V519.5"/><path d="M861.90 509.00 C861.20 507.70 860.00 507.10 858.80 507.10 C857.10 507.10 856.00 508.10 856.00 509.50 C856.00 511.00 857.20 511.60 858.90 512.20 C860.90 512.90 862.20 513.60 862.20 515.40 C862.20 517.10 860.80 518.40 858.90 518.40 C857.30 518.40 856.10 517.50 855.60 516.20"/><path d="M873.60 509.00 C872.90 507.70 871.70 507.10 870.50 507.10 C868.80 507.10 867.70 508.10 867.70 509.50 C867.70 511.00 868.90 511.60 870.60 512.20 C872.60 512.90 873.90 513.60 873.90 515.40 C873.90 517.10 872.50 518.40 870.60 518.40 C869.00 518.40 867.80 517.50 867.30 516.20"/><path d="M878.1 506.4 V519.5 M878.1 511.8 C878.1 508.4 880.2 506.95 882.8 506.95 C885.5 506.95 887.6 508.6 887.6 511.9 V519.5"/><circle cx="897.15" cy="512.75" r="5.1"/><circle cx="911.9" cy="512.75" r="5.1"/><path d="M917.85 501.8 V519.5"/><path d="M922.8 512.75 H933.2 A5.2 5.2 0 1 0 931.98 516.1"/></g>
</svg>
<div id="foot" class="t">&copy; 2026 Glassnode. All Rights Reserved.</div>
</body></html>
